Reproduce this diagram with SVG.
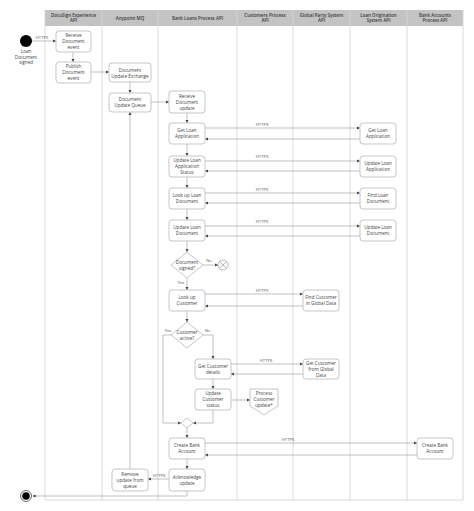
<svg xmlns="http://www.w3.org/2000/svg" width="474" height="511" viewBox="0 0 474 511">
<style>
.lane{stroke:#d6d6d6;stroke-width:0.9;fill:none}
.hdr{font-family:"Open Sans","Noto Sans",sans-serif;font-size:4.5px;font-weight:600;fill:#3a3a3a;text-anchor:middle}
.box{fill:#fff;stroke:#b8b8b8;stroke-width:0.8}
.t{font-family:"Open Sans","Noto Sans",sans-serif;font-size:4.6px;fill:#444;text-anchor:middle}
.lbl{font-family:"Open Sans","Noto Sans",sans-serif;font-size:4.2px;fill:#555;text-anchor:middle}
.c{fill:none;stroke:#999;stroke-width:0.6}
.ca{fill:none;stroke:#999;stroke-width:0.6;marker-end:url(#ah)}
</style>
<defs>
<marker id="ah" viewBox="0 0 6 6" refX="6" refY="3" markerWidth="3.2" markerHeight="3.2" orient="auto" markerUnits="userSpaceOnUse"><path d="M0,0 L6,3 L0,6 z" fill="#444"/></marker>
</defs>
<rect width="474" height="511" fill="#fff"/>
<g id="lanes">
<rect x="45" y="10" width="418" height="16" fill="#c3c3c3"/>
<path class="lane" d="M45,10V500M102,10V500M158,10V500M237,10V500M293,10V500M350,10V500M407,10V500M463,10V500M45,500H463"/>
<text class="hdr" x="73.5" y="16.5">DocuSign Experience</text><text class="hdr" x="73.5" y="22">API</text>
<text class="hdr" x="130" y="19.5">Anypoint MQ</text>
<text class="hdr" x="197.5" y="19.5">Bank Loans Process API</text>
<text class="hdr" x="265" y="16.5">Customers Process</text><text class="hdr" x="265" y="22">API</text>
<text class="hdr" x="321.5" y="16.5">Global Party System</text><text class="hdr" x="321.5" y="22">API</text>
<text class="hdr" x="378.5" y="16.5">Loan Origination</text><text class="hdr" x="378.5" y="22">System API</text>
<text class="hdr" x="435" y="16.5">Bank Accounts</text><text class="hdr" x="435" y="22">Process API</text>
</g>
<g id="connectors">
<path class="ca" d="M32,41H56"/><text class="lbl" x="42" y="38.5">HTTPS</text>
<path class="ca" d="M73,52V62"/>
<path class="ca" d="M91,72H109"/>
<path class="ca" d="M130,82V93"/>
<path class="ca" d="M151,102H169"/>
<path class="ca" d="M187,113V123"/>
<path class="ca" d="M187,144V156"/>
<path class="ca" d="M187,177V188"/>
<path class="ca" d="M187,209V220"/>
<path class="ca" d="M187,241V252"/>
<path class="ca" d="M205,128H360"/><path class="ca" d="M360,139H205"/><text class="lbl" x="262" y="125.5">HTTPS</text>
<path class="ca" d="M205,161H360"/><path class="ca" d="M360,171H205"/><text class="lbl" x="262" y="158">HTTPS</text>
<path class="ca" d="M205,193H360"/><path class="ca" d="M360,203H205"/><text class="lbl" x="262" y="190.5">HTTPS</text>
<path class="ca" d="M205,226H360"/><path class="ca" d="M360,236H205"/><text class="lbl" x="262" y="222.5">HTTPS</text>
<path class="ca" d="M203,265H218"/><text class="lbl" x="209" y="262">No</text>
<path class="ca" d="M187,278V290"/><text class="lbl" x="181" y="283.5">Yes</text>
<path class="ca" d="M205,294H303"/><path class="ca" d="M303,306H205"/><text class="lbl" x="262" y="291.5">HTTPS</text>
<path class="ca" d="M187,311V322"/>
<path class="ca" d="M171,335H163V423H181"/><text class="lbl" x="168" y="332">Yes</text>
<path class="ca" d="M203,335H213V359"/><text class="lbl" x="207.5" y="332">No</text>
<path class="ca" d="M231,364H303"/><path class="ca" d="M303,374H231"/><text class="lbl" x="266" y="361.5">HTTPS</text>
<path class="ca" d="M213,379V389"/>
<path class="ca" d="M231,400H250"/>
<path class="ca" d="M213,410V423H193"/>
<path class="ca" d="M187,428V438"/>
<path class="ca" d="M205,443H417"/><path class="ca" d="M417,455H205"/><text class="lbl" x="288" y="440.5">HTTPS</text>
<path class="ca" d="M187,459V469"/>
<path class="ca" d="M169,479H148"/><text class="lbl" x="159" y="477">HTTPS</text>
<path class="ca" d="M130,469V112"/>
<path class="ca" d="M187,491V496H32.5"/>
</g>
<g id="start"><circle cx="26" cy="41" r="6" fill="#000"/><text class="t" x="26" y="53">Loan</text><text class="t" x="26" y="58.5">Document</text><text class="t" x="26" y="64">signed</text></g>
<g id="receive-doc-event"><rect class="box" x="56" y="31" width="35" height="21" rx="3"/><text class="t" x="73.5" y="37">Receive</text><text class="t" x="73.5" y="43">Document</text><text class="t" x="73.5" y="49">event</text></g>
<g id="publish-doc-event"><rect class="box" x="56" y="62" width="35" height="21" rx="3"/><text class="t" x="73.5" y="68">Publish</text><text class="t" x="73.5" y="74">Document</text><text class="t" x="73.5" y="80">event</text></g>
<g id="doc-update-exchange"><rect class="box" x="109" y="63" width="42" height="19" rx="3"/><text class="t" x="130" y="71.5">Document</text><text class="t" x="130" y="77.5">Update Exchange</text></g>
<g id="doc-update-queue"><rect class="box" x="109" y="93" width="42" height="19" rx="3"/><text class="t" x="130" y="101">Document</text><text class="t" x="130" y="107">Update Queue</text></g>
<g id="receive-doc-update"><rect class="box" x="169" y="91" width="36" height="22" rx="3"/><text class="t" x="187" y="98">Receive</text><text class="t" x="187" y="104">Document</text><text class="t" x="187" y="110">update</text></g>
<g id="bl-get-loan-app"><rect class="box" x="169" y="123" width="36" height="21" rx="3"/><text class="t" x="187" y="132">Get Loan</text><text class="t" x="187" y="138">Application</text></g>
<g id="bl-update-loan-app-status"><rect class="box" x="169" y="156" width="36" height="21" rx="3"/><text class="t" x="187" y="162">Update Loan</text><text class="t" x="187" y="168">Application</text><text class="t" x="187" y="174">Status</text></g>
<g id="bl-lookup-loan-doc"><rect class="box" x="169" y="188" width="36" height="21" rx="3"/><text class="t" x="187" y="197">Look up Loan</text><text class="t" x="187" y="203">Document</text></g>
<g id="bl-update-loan-doc"><rect class="box" x="169" y="220" width="36" height="21" rx="3"/><text class="t" x="187" y="229">Update Loan</text><text class="t" x="187" y="235">Document</text></g>
<g id="lo-get-loan-app"><rect class="box" x="360" y="123" width="36" height="21" rx="3"/><text class="t" x="378" y="132">Get Loan</text><text class="t" x="378" y="138">Application</text></g>
<g id="lo-update-loan-app"><rect class="box" x="360" y="156" width="36" height="21" rx="3"/><text class="t" x="378" y="165">Update Loan</text><text class="t" x="378" y="171">Application</text></g>
<g id="lo-find-loan-doc"><rect class="box" x="360" y="188" width="36" height="21" rx="3"/><text class="t" x="378" y="197">Find Loan</text><text class="t" x="378" y="203">Document</text></g>
<g id="lo-update-loan-doc"><rect class="box" x="360" y="220" width="36" height="21" rx="3"/><text class="t" x="378" y="229">Update Loan</text><text class="t" x="378" y="235">Document</text></g>
<g id="doc-signed"><path class="box" d="M187,252L203,265L187,278L171,265Z"/><text class="t" x="187" y="264">Document</text><text class="t" x="187" y="270">signed?</text></g>
<g id="flow-end"><circle cx="223" cy="265" r="5" fill="#fff" stroke="#888" stroke-width="0.6"/><path d="M219.5,261.5L226.5,268.5M226.5,261.5L219.5,268.5" stroke="#888" stroke-width="0.6"/></g>
<g id="lookup-customer"><rect class="box" x="169" y="290" width="36" height="21" rx="3"/><text class="t" x="187" y="299">Look up</text><text class="t" x="187" y="305">Customer</text></g>
<g id="find-customer-global"><rect class="box" x="303" y="290" width="36" height="21" rx="3"/><text class="t" x="321" y="299">Find Customer</text><text class="t" x="321" y="305">in Global Data</text></g>
<g id="customer-active"><path class="box" d="M187,322L203,335L187,348L171,335Z"/><text class="t" x="187" y="334">Customer</text><text class="t" x="187" y="340">active?</text></g>
<g id="get-customer-details"><rect class="box" x="195" y="359" width="36" height="20" rx="3"/><text class="t" x="213" y="367.5">Get Customer</text><text class="t" x="213" y="373.5">details</text></g>
<g id="get-customer-global"><rect class="box" x="303" y="359" width="36" height="20" rx="3"/><text class="t" x="321" y="364.5">Get Customer</text><text class="t" x="321" y="370.5">from Global</text><text class="t" x="321" y="376.5">Data</text></g>
<g id="update-customer-status"><rect class="box" x="195" y="389" width="36" height="21" rx="3"/><text class="t" x="213" y="395">Update</text><text class="t" x="213" y="401">Customer</text><text class="t" x="213" y="407">status</text></g>
<g id="process-customer-update"><path class="box" d="M250,389H278V406L264,415L250,406Z"/><text class="t" x="264" y="395">Process</text><text class="t" x="264" y="401">Customer</text><text class="t" x="264" y="407">update*</text></g>
<g id="merge"><path class="box" d="M187,418L193,423L187,428L181,423Z"/></g>
<g id="bl-create-bank-account"><rect class="box" x="169" y="438" width="36" height="21" rx="3"/><text class="t" x="187" y="447">Create Bank</text><text class="t" x="187" y="453">Account</text></g>
<g id="ba-create-bank-account"><rect class="box" x="417" y="438" width="36" height="21" rx="3"/><text class="t" x="435" y="447">Create Bank</text><text class="t" x="435" y="453">Account</text></g>
<g id="acknowledge-update"><rect class="box" x="169" y="469" width="36" height="22" rx="3"/><text class="t" x="187" y="478.5">Acknowledge</text><text class="t" x="187" y="484.5">update</text></g>
<g id="remove-update"><rect class="box" x="112" y="469" width="36" height="22" rx="3"/><text class="t" x="130" y="475.5">Remove</text><text class="t" x="130" y="481.5">update from</text><text class="t" x="130" y="487.5">queue</text></g>
<g id="end"><circle cx="26" cy="496" r="5.5" fill="#fff" stroke="#000" stroke-width="0.6"/><circle cx="26" cy="496" r="3.8" fill="#000"/></g>
</svg>
